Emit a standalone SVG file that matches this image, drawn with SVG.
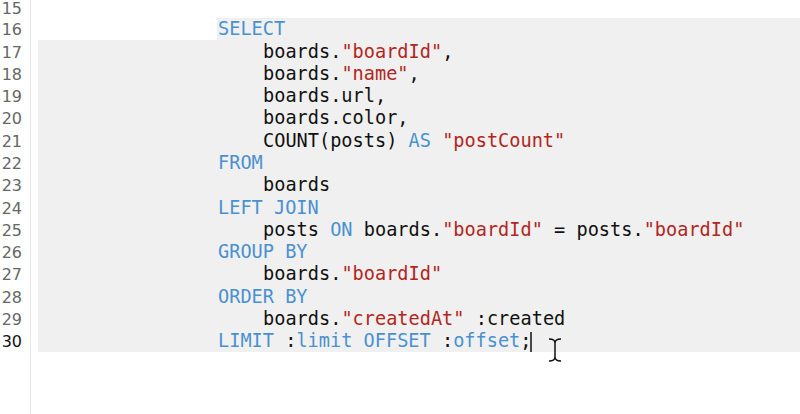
<svg xmlns="http://www.w3.org/2000/svg" width="800" height="414" viewBox="0 0 800 414">
<style>
.n{font-family:"DejaVu Sans",sans-serif;font-size:16px;fill:#666;text-anchor:end}
.c{font-family:"DejaVu Sans Mono",monospace;font-size:18.6px;font-weight:500;fill:#111;white-space:pre}
.k{fill:#4a90d0}
.s{fill:#b3261e}
</style>
<rect width="800" height="414" fill="#fff"/>
<rect x="217" y="18" width="583" height="22" fill="#f0f0f0"/>
<rect x="38" y="40" width="762" height="312" fill="#f0f0f0"/>
<line x1="30.5" y1="0" x2="30.5" y2="414" stroke="#e6e6e6"/>
<g class="n">
<text x="22" y="14">15</text><text x="22" y="35">16</text><text x="22" y="58">17</text><text x="22" y="80">18</text>
<text x="22" y="102">19</text><text x="22" y="124">20</text><text x="22" y="147">21</text><text x="22" y="169">22</text>
<text x="22" y="191">23</text><text x="22" y="214">24</text><text x="22" y="236">25</text><text x="22" y="258">26</text>
<text x="22" y="280">27</text><text x="22" y="303">28</text><text x="22" y="325">29</text><text x="22" y="347" style="fill:#111">30</text>
</g>
<g class="c">
<text x="218" y="35" class="k">SELECT</text>
<text x="263" y="58">boards.<tspan class="s">"boardId"</tspan>,</text>
<text x="263" y="80">boards.<tspan class="s">"name"</tspan>,</text>
<text x="263" y="102">boards.url,</text>
<text x="263" y="124">boards.color,</text>
<text x="263" y="147">COUNT(posts) <tspan class="k">AS</tspan> <tspan class="s">"postCount"</tspan></text>
<text x="218" y="169" class="k">FROM</text>
<text x="263" y="191">boards</text>
<text x="218" y="214" class="k">LEFT JOIN</text>
<text x="263" y="236">posts <tspan class="k">ON</tspan> boards.<tspan class="s">"boardId"</tspan> = posts.<tspan class="s">"boardId"</tspan></text>
<text x="218" y="258" class="k">GROUP BY</text>
<text x="263" y="280">boards.<tspan class="s">"boardId"</tspan></text>
<text x="218" y="303" class="k">ORDER BY</text>
<text x="263" y="325">boards.<tspan class="s">"createdAt"</tspan> :created</text>
<text x="218" y="347"><tspan class="k">LIMIT</tspan> :<tspan class="k">limit</tspan> <tspan class="k">OFFSET</tspan> :<tspan class="k">offset</tspan>;</text>
</g>
<line x1="531" y1="332" x2="531" y2="352" stroke="#111" stroke-width="1.5"/>
<path d="M549 339 Q555 339 555 343 Q555 339 561 339 M555 343 V357 M549 361 Q555 361 555 357 Q555 361 561 361" fill="none" stroke="#111" stroke-width="1.5"/>
</svg>
